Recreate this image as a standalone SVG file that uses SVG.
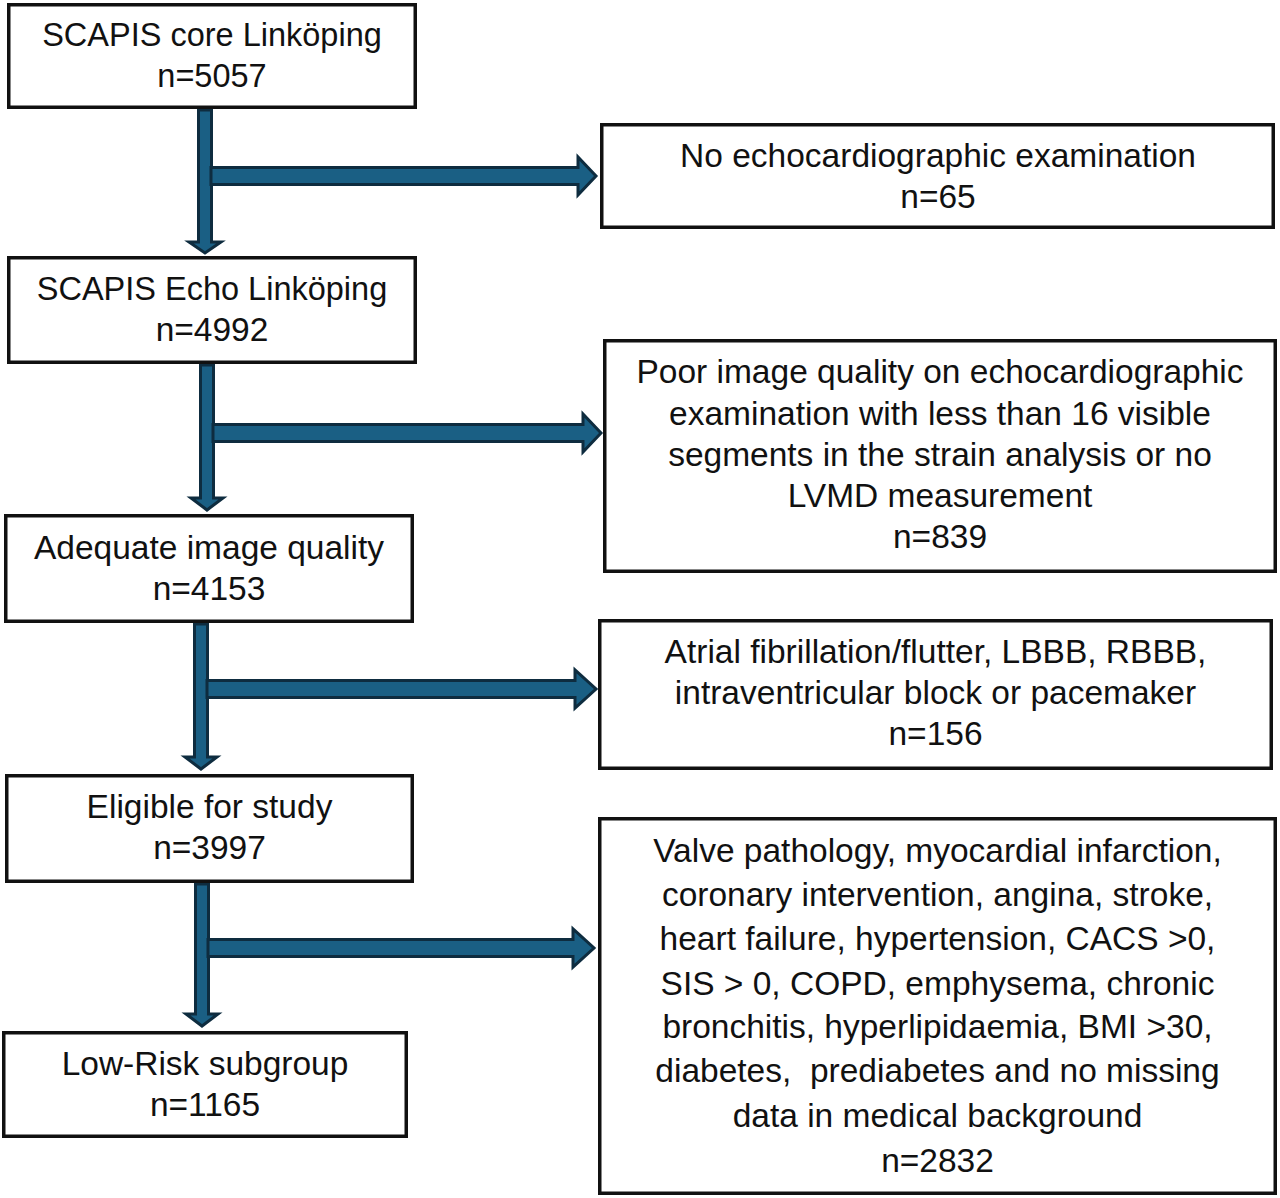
<svg xmlns="http://www.w3.org/2000/svg" width="1280" height="1198" viewBox="0 0 1280 1198">
<style>
.box{fill:#fff;stroke:#111;stroke-width:3.5}
.t{font-family:"Liberation Sans",Arial,sans-serif;font-size:33.5px;fill:#111;text-anchor:middle}
.s{font-size:32.5px}
.arr{fill:#1a5f84;stroke:#0e2c3f;stroke-width:3;stroke-linejoin:miter}
</style>
<rect width="1280" height="1198" fill="#fff"/>
<g id="connectors">
<polygon class="arr" points="198.5,110 211.5,110 211.5,242 221,242 205,253 189,242 198.5,242"/>
<polygon class="arr" points="211,167.5 578,167.5 578,157 596,176 578,195 578,184.5 211,184.5"/>
<polygon class="arr" points="200.5,365 213.5,365 213.5,498 223,498 207,510 191,498 200.5,498"/>
<polygon class="arr" points="213,424.5 583,424.5 583,414 601,433 583,452 583,441.5 213,441.5"/>
<polygon class="arr" points="194.5,624 207.5,624 207.5,757 217,757 201,769 185,757 194.5,757"/>
<polygon class="arr" points="207,680.5 575,680.5 575,670 596,689 575,708 575,697.5 207,697.5"/>
<polygon class="arr" points="195.5,884 208.5,884 208.5,1014 218,1014 202,1026 186,1014 195.5,1014"/>
<polygon class="arr" points="208,939.5 573,939.5 573,929 594,948 573,967 573,956.5 208,956.5"/>
</g>
<g id="n1">
<rect class="box" x="8.75" y="4.75" width="406.5" height="102.5"/>
<text class="t s" x="212" y="46">SCAPIS core Linköping</text>
<text class="t s" x="212" y="87">n=5057</text>
</g>
<g id="n2">
<rect class="box" x="601.75" y="124.75" width="671.5" height="102.5"/>
<text class="t" x="938" y="167">No echocardiographic examination</text>
<text class="t" x="938" y="208">n=65</text>
</g>
<g id="n3">
<rect class="box" x="8.75" y="257.75" width="406.5" height="104.5"/>
<text class="t s" x="212" y="300">SCAPIS Echo Linköping</text>
<text class="t" x="212" y="341">n=4992</text>
</g>
<g id="n4">
<rect class="box" x="604.75" y="340.75" width="670.5" height="230.5"/>
<text class="t" x="940" y="383">Poor image quality on echocardiographic</text>
<text class="t" x="940" y="424.5">examination with less than 16 visible</text>
<text class="t" x="940" y="466">segments in the strain analysis or no</text>
<text class="t" x="940" y="507">LVMD measurement</text>
<text class="t" x="940" y="548">n=839</text>
</g>
<g id="n5">
<rect class="box" x="5.75" y="515.75" width="406.5" height="105.5"/>
<text class="t" x="209" y="559">Adequate image quality</text>
<text class="t" x="209" y="600">n=4153</text>
</g>
<g id="n6">
<rect class="box" x="599.75" y="620.75" width="671.5" height="147.5"/>
<text class="t" x="935.5" y="663">Atrial fibrillation/flutter, LBBB, RBBB,</text>
<text class="t" x="935.5" y="704">intraventricular block or pacemaker</text>
<text class="t" x="935.5" y="745">n=156</text>
</g>
<g id="n7">
<rect class="box" x="6.75" y="775.75" width="405.5" height="105.5"/>
<text class="t" x="209.5" y="818">Eligible for study</text>
<text class="t" x="209.5" y="859">n=3997</text>
</g>
<g id="n8">
<rect class="box" x="599.75" y="818.75" width="675.5" height="374.5"/>
<text class="t" x="937.5" y="862">Valve pathology, myocardial infarction,</text>
<text class="t" x="937.5" y="906">coronary intervention, angina, stroke,</text>
<text class="t" x="937.5" y="950">heart failure, hypertension, CACS &gt;0,</text>
<text class="t" x="937.5" y="995">SIS &gt; 0, COPD, emphysema, chronic</text>
<text class="t" x="937.5" y="1038">bronchitis, hyperlipidaemia, BMI &gt;30,</text>
<text class="t" x="937.5" y="1082" xml:space="preserve">diabetes,  prediabetes and no missing</text>
<text class="t" x="937.5" y="1127">data in medical background</text>
<text class="t" x="937.5" y="1172">n=2832</text>
</g>
<g id="n9">
<rect class="box" x="3.75" y="1032.75" width="402.5" height="103.5"/>
<text class="t" x="205" y="1075">Low-Risk subgroup</text>
<text class="t" x="205" y="1116">n=1165</text>
</g>
</svg>
